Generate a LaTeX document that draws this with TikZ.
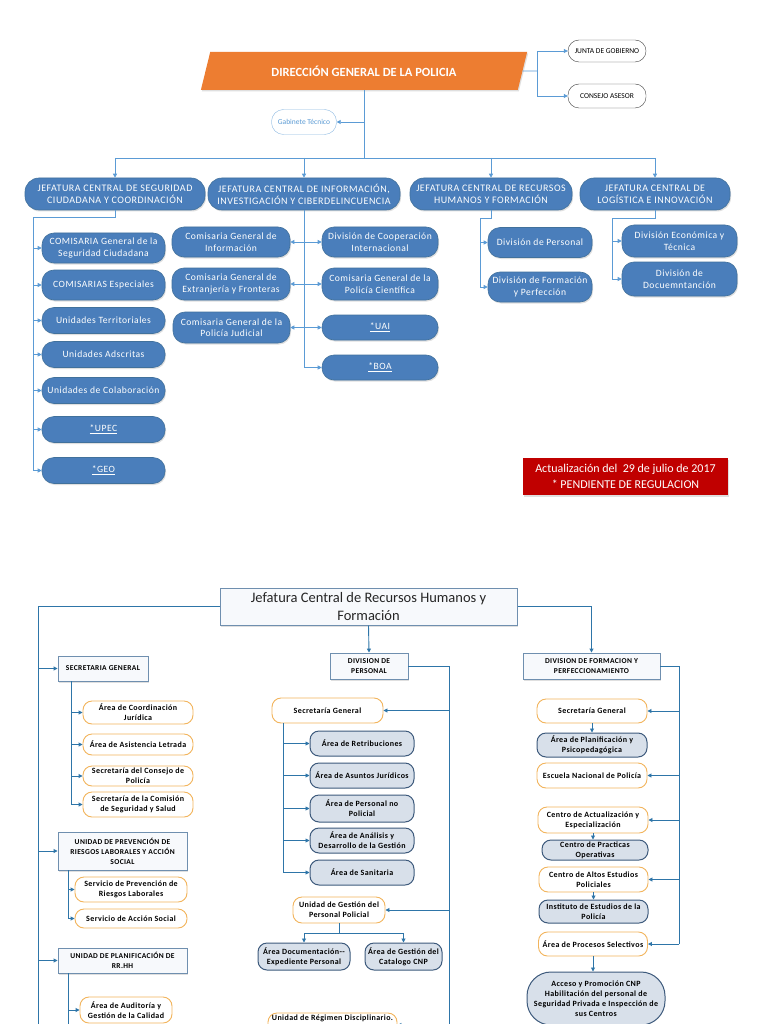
\documentclass[tikz,border=0pt]{standalone}
\usepackage{fontspec}
\setmainfont{Carlito}
\newfontfamily\spc[LetterSpace=5]{Carlito}
\usetikzlibrary{shapes.geometric,arrows.meta,shadows}
\definecolor{lineA}{HTML}{5B9BD5}
\definecolor{boxA}{HTML}{4A7EBB}
\definecolor{boxAd}{HTML}{41719C}
\definecolor{dgpC}{HTML}{ED7D31}
\definecolor{redC}{HTML}{C00000}
\definecolor{lineB}{HTML}{2E75A8}
\definecolor{hdrD}{HTML}{6F8FAF}
\definecolor{hdrF}{HTML}{F7F9FC}
\definecolor{orgD}{HTML}{F2B45C}
\definecolor{grayF}{HTML}{D8E0EA}
\definecolor{grayD}{HTML}{3D5A7C}
\tikzset{
  sz/.style 2 args={minimum width=#1, minimum height=#2},
  shd/.style={drop shadow={opacity=.25, shadow xshift=1pt, shadow yshift=-1.5pt}},
  dgp/.style={trapezium, trapezium stretches=true, trapezium left angle=62, trapezium right angle=118, fill=dgpC, shd, text=white, inner sep=0, font=\bfseries\fontsize{12.5}{14}\selectfont},
  jef/.style={fill=boxA, draw=boxAd, line width=.6, shd, text=white, rounded corners=14, align=center, inner sep=1, font=\spc\fontsize{10}{12}\selectfont},
  blu/.style={fill=boxA, draw=boxAd, line width=.6, shd, text=white, rounded corners=12, align=center, inner sep=1, font=\spc\fontsize{9.6}{11.5}\selectfont},
  pill/.style={draw=black!75, fill=white, rounded corners=11, align=center, font=\fontsize{7.5}{8}\selectfont},
  gab/.style={draw=lineA!70, fill=white, rounded corners=12, text=lineA, align=center, font=\fontsize{7.5}{8}\selectfont},
  note/.style={fill=redC, shd, text=white, align=center, font=\fontsize{12}{16}\selectfont},
  titbox/.style={draw=hdrD, fill=hdrF, line width=1, shd, align=center, text=black!85, font=\fontsize{14.5}{18}\selectfont},
  hdr/.style={draw=hdrD, fill=hdrF, line width=.9, shd, align=center, inner sep=1, font=\spc\bfseries\fontsize{7.5}{10}\selectfont},
  org/.style={draw=orgD, fill=white, line width=.9, rounded corners=9, align=center, inner sep=1, font=\spc\bfseries\fontsize{8}{10}\selectfont},
  gry/.style={draw=grayD, fill=grayF, line width=1, rounded corners=9, align=center, inner sep=1, font=\spc\bfseries\fontsize{8}{10}\selectfont},
  wireA/.style={draw=lineA, line width=.8},
  linkA/.style={wireA, -{Triangle[length=4pt,width=4pt]}},
  wireB/.style={draw=lineB, line width=.9},
  linkB/.style={wireB, -{Triangle[length=4pt,width=4pt]}}
}
\begin{document}
\begin{tikzpicture}[x=1pt, y=-1pt]
\useasboundingbox (0,0) rectangle (768,1024);
\clip (0,0) rectangle (768,1024);
\fill[white] (0,0) rectangle (768,1024);

\node[dgp, sz={327}{38}] (dgp) at (364,71) {DIRECCIÓN GENERAL DE LA POLICIA};
\path (607,51) node[pill, sz={78}{22}] (junta) {JUNTA DE GOBIERNO}
      (607,96) node[pill, sz={78}{24}] (consejo) {CONSEJO ASESOR}
      (304,122) node[gab, sz={65}{25}] (gabinete) {Gabinete Técnico};
\path (115,194) node[jef, sz={180}{32}] (jsc) {JEFATURA CENTRAL DE SEGURIDAD\\CIUDADANA Y COORDINACIÓN}
      (304,194) node[jef, sz={192}{32}] (jinf) {JEFATURA CENTRAL DE INFORMACIÓN,\\INVESTIGACIÓN Y CIBERDELINCUENCIA}
      (491,194) node[jef, sz={162}{32}] (jrh) {JEFATURA CENTRAL DE RECURSOS\\HUMANOS Y FORMACIÓN}
      (655,194) node[jef, sz={150}{32}] (jlog) {JEFATURA CENTRAL DE\\LOGÍSTICA E INNOVACIÓN};

\path (103.5,248) node[blu, sz={123}{30}] (segciu) {COMISARIA General de la\\Seguridad Ciudadana}
      (103.5,285) node[blu, sz={123}{30}] (especial) {COMISARIAS Especiales}
      (103.5,320.5) node[blu, sz={123}{26}] (territ) {Unidades Territoriales}
      (103.5,354.5) node[blu, sz={123}{26}] (adscr) {Unidades Adscritas}
      (103.5,390.5) node[blu, sz={123}{26}] (colab) {Unidades de Colaboración}
      (103.5,429.5) node[blu, sz={123}{26}] (upec) {\underline{*UPEC}}
      (103.5,470.5) node[blu, sz={123}{26}] (geo) {\underline{*GEO}};
\path (231,242) node[blu, sz={118}{30}] (cginf) {Comisaria General de\\Información}
      (231,284) node[blu, sz={118}{32}] (cgext) {Comisaria General de\\Extranjería y  Fronteras}
      (231.5,327.5) node[blu, sz={117}{31}] (cgjud) {Comisaria General de la\\Policía Judicial}
      (380,242) node[blu, sz={116}{30}] (coop) {División de Cooperación\\Internacional}
      (380,284) node[blu, sz={116}{32}] (cgcie) {Comisaria General de la\\Policía Científica}
      (380,327.5) node[blu, sz={116}{25}] (uai) {\underline{*UAI}}
      (380,367.5) node[blu, sz={116}{25}] (boa) {\underline{*BOA}};
\path (540,242.5) node[blu, sz={104}{30}] (dpers0) {División de Personal}
      (540,287) node[blu, sz={104}{30}] (dform0) {División de Formación\\y Perfección}
      (679.5,241) node[blu, sz={115}{32}] (econ) {División Económica y\\Técnica}
      (679.5,279) node[blu, sz={115}{34}] (docu) {División de\\Docuemntanción};
\node[note, sz={205}{37}] (nota) at (625.5,476.5) {Actualización del \ 29 de julio de 2017\\* PENDIENTE DE REGULACION};

\coordinate (split) at (537,71);
\coordinate (bus) at (364,158);
\coordinate (segL) at (33,217);
\coordinate (rhL) at (480,218);
\coordinate (logL) at (612,218);
\draw[wireA] (dgp.east) -- (split);
\draw[linkA] (split) |- (junta.west);
\draw[linkA] (split) |- (consejo.west);
\draw[wireA] (dgp) -- (bus);
\draw[linkA] (bus |- gabinete) -- (gabinete.east);
\draw[wireA] (jsc.north |- bus) -- (jlog.north |- bus);
\foreach \n in {jsc,jinf,jrh,jlog} \draw[linkA] (\n.north |- bus) -- (\n.north);
\draw[wireA] (jsc.south) |- (segL) -- (segL |- geo);
\foreach \n in {segciu,especial,territ,adscr,colab,upec,geo} \draw[linkA] (segL |- \n) -- (\n.west);
\draw[wireA] (jinf.south) -- (jinf.south |- boa);
\foreach \a/\b in {cginf/coop,cgext/cgcie,cgjud/uai} {
  \draw[linkA] (jinf.south |- \a) -- (\a.east);
  \draw[linkA] (jinf.south |- \b) -- (\b.west);
}
\draw[linkA] (jinf.south |- boa) -- (boa.west);
\draw[wireA] (jrh.south) |- (rhL) -- (rhL |- dform0);
\foreach \n in {dpers0,dform0} \draw[linkA] (rhL |- \n) -- (\n.west);
\draw[wireA] (jlog.south) |- (logL) -- (logL |- docu);
\foreach \n in {econ,docu} \draw[linkA] (logL |- \n) -- (\n.west);

\node[titbox, sz={297}{37}] (rhbox) at (368.5,606.5) {Jefatura Central de Recursos Humanos y\\Formación};
\path (103,668.5) node[hdr, sz={90}{25}] (sg) {SECRETARIA GENERAL}
      (122.5,851) node[hdr, sz={129}{38}] (upr) {UNIDAD DE PREVENCIÓN DE\\RIESGOS LABORALES Y ACCIÓN\\SOCIAL}
      (122.5,960.5) node[hdr, sz={129}{25}] (upl) {UNIDAD DE PLANIFICACIÓN DE\\RR.HH}
      (369,666) node[hdr, sz={78}{26}] (dpers) {DIVISION DE\\PERSONAL}
      (591.5,666) node[hdr, sz={137}{26}] (dform) {DIVISION DE FORMACION Y\\PERFECCIONAMIENTO};
\path (138,712.5) node[org, sz={110}{23}] (cjur) {Área de Coordinación\\Jurídica}
      (138,744.5) node[org, sz={110}{21}] (aslet) {Área de Asistencia Letrada}
      (138,776) node[org, sz={110}{20}] (conpol) {Secretaría del Consejo de\\Policía}
      (138,804.5) node[org, sz={110}{25}] (segsal) {Secretaría de la Comisión\\de Seguridad y Salud}
      (131,889.5) node[org, sz={112}{25}] (prevlab) {Servicio de Prevención de\\Riesgos Laborales}
      (131,918.5) node[org, sz={112}{19}] (accsoc) {Servicio de Acción Social}
      (126,1010) node[org, sz={92}{26}] (audit) {Área de Auditoría y\\Gestión de la Calidad};
\path (327.5,710.5) node[org, sz={111}{25}] (sgp) {Secretaría General}
      (362,743.5) node[gry, sz={104}{25}] (retrib) {Área de Retribuciones}
      (362,775.5) node[gry, sz={104}{25}] (asjur) {Área de Asuntos Jurídicos}
      (362,808.5) node[gry, sz={104}{27}] (pnopol) {Área de Personal no\\Policial}
      (362,840.5) node[gry, sz={104}{25}] (anades) {Área de Análisis y\\Desarrollo de la Gestión}
      (362,872.5) node[gry, sz={104}{25}] (sanit) {Área de Sanitaria}
      (339,910) node[org, sz={92}{26}] (ugpp) {Unidad de Gestión del\\Personal Policial}
      (304,956.5) node[gry, sz={92}{27}] (adoc) {Área Documentación--\\Expediente Personal}
      (403.5,956.5) node[gry, sz={77}{27}] (acat) {Área de Gestión del\\Catalogo CNP}
      (332.5,1025) node[org, sz={129}{24}, text depth=14pt] (urd) {Unidad de Régimen Disciplinario.};
\path (592,711) node[org, sz={110}{24}] (sgf) {Secretaría General}
      (592,745) node[gry, sz={110}{24}] (planif) {Área de Planificación y\\Psicopedagógica}
      (592,775.5) node[org, sz={110}{25}] (escuela) {Escuela Nacional de Policía}
      (593,820) node[org, sz={110}{26}] (cactual) {Centro de Actualización y\\Especialización}
      (595,850) node[gry, sz={106}{20}] (cprac) {Centro de Practicas\\Operativas}
      (593.5,879.5) node[org, sz={109}{25}] (caltos) {Centro de Altos Estudios\\Policiales}
      (593.5,911.5) node[gry, sz={109}{23}] (iest) {Instituto de Estudios de la\\Policía}
      (593,944) node[org, sz={109}{24}] (procsel) {Área de Procesos Selectivos}
      (596,998.5) node[gry, sz={138}{53}, rounded corners=24] (acceso) {Acceso y Promoción CNP\\Habilitación del personal de\\Seguridad Privada e Inspección de\\sus Centros};

\coordinate (leftbus) at (38,1030);
\coordinate (dpR) at (449,1030);
\coordinate (dfR) at (679,944);
\coordinate (sgL) at ([xshift=14]sg.south west);
\coordinate (uprL) at ([xshift=11]upr.south west);
\coordinate (uplL) at ([xshift=11]upl.south west);
\coordinate (sgpL) at ([xshift=12]sgp.south west);
\coordinate (ugS) at ([yshift=-10]ugpp.south);
\draw[wireB] (rhbox.west) -| (leftbus);
\foreach \n in {sg,upr,upl} \draw[linkB] (leftbus |- \n) -- (\n.west);
\draw[linkB] (rhbox.south) -- (dpers.north);
\draw[linkB] (rhbox.east) -| (dform.north);
\draw[wireB] (sgL) -- (sgL |- segsal);
\foreach \n in {cjur,aslet,conpol,segsal} \draw[linkB] (sgL |- \n) -- (\n.west);
\draw[wireB] (uprL) -- (uprL |- accsoc);
\foreach \n in {prevlab,accsoc} \draw[linkB] (uprL |- \n) -- (\n.west);
\draw[wireB] (uplL) -- ++(0,80);
\draw[linkB] (uplL |- audit) -- (audit.west);
\draw[wireB] (dpers.east) -| (dpR);
\foreach \n in {sgp,ugpp,urd} \draw[linkB] (dpR |- \n) -- (\n.east);
\draw[wireB] (sgpL) -- (sgpL |- sanit);
\foreach \n in {retrib,asjur,pnopol,anades,sanit} \draw[linkB] (sgpL |- \n) -- (\n.west);
\draw[wireB] (ugpp.south) -- (ugS);
\draw[linkB] (ugS) -| (adoc.north);
\draw[linkB] (ugS) -| (acat.north);
\draw[wireB] (dform.east) -| (dfR);
\foreach \n in {sgf,escuela,cactual,caltos,procsel} \draw[linkB] (dfR |- \n) -- (\n.east);
\foreach \a/\b in {sgf/planif,cactual/cprac,caltos/iest,procsel/acceso} \draw[linkB] (\a.south) -- (\a.south |- \b.north);
\end{tikzpicture}
\end{document}
